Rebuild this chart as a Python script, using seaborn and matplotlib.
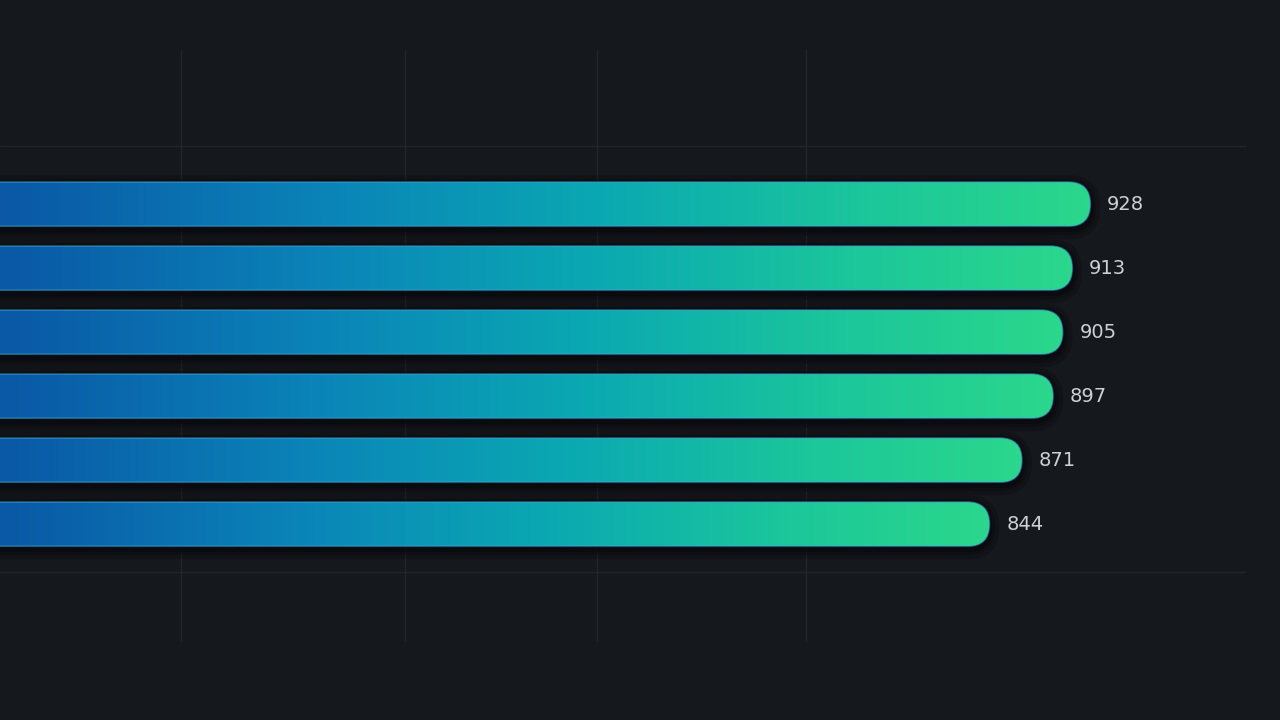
"""Horizontal gradient bar chart, dark theme"""

import numpy as np
import pandas as pd
import matplotlib
matplotlib.use("Agg")
import matplotlib.pyplot as plt
from matplotlib.colors import LinearSegmentedColormap
from matplotlib.patches import FancyBboxPatch
import seaborn as sns

categories = ["A", "B", "C", "D", "E", "F"]
values = [928, 913, 905, 897, 871, 844]

BG = "#15181c"
GRID = "#22262c"
grad = LinearSegmentedColormap.from_list(
    "bluegreen",
    [(0.0, "#0a58a6"), (0.3, "#0a84b8"), (0.55, "#0aa8b2"),
     (0.8, "#1cc79a"), (1.0, "#2bd78b")])

df = pd.DataFrame({"cat": categories, "val": values})

sns.set_theme(style="dark")
plt.rcParams["font.family"] = ["DejaVu Sans"]

fig = plt.figure(figsize=(12.8, 7.2), dpi=100, facecolor=BG)
ax = fig.add_axes([0, 0, 1, 1])
ax.set_facecolor(BG)

sns.barplot(data=df, x="val", y="cat", orient="h", width=0.69, ax=ax)

x_lo, x_hi = 20, 1086
y_top, y_bot = -3.19, 8.06
ax.set_xlim(x_lo, x_hi)
ax.set_ylim(y_bot, y_top)
ax.set_axis_off()

# faint grid
for gx in [181, 405, 597, 806]:
    ax.axvline(x_lo + gx / 1280 * (x_hi - x_lo), ymin=0.11, ymax=0.93,
               color=GRID, lw=1, zorder=0)
for gy in [146, 572]:
    ax.axhline(y_top + gy / 720 * (y_bot - y_top), xmin=0, xmax=0.973,
               color=GRID, lw=1, zorder=0)

# rounded gradient bars
px_x = 1280 / (x_hi - x_lo)
px_y = 720 / (y_bot - y_top)
ramp = np.linspace(0, 1, 256).reshape(1, -1)
for bar, v in zip(ax.patches, values):
    bar.set_visible(False)
    y0 = bar.get_y()
    h = bar.get_height()
    r = (h * px_y / 2) / px_x
    # soft dark shadow under each bar
    for grow, a in [(10, 0.25), (6, 0.35), (3, 0.5)]:
        gy = grow / px_y
        sh = FancyBboxPatch((-40, y0 - gy + 3 / px_y), v + 40 + grow / px_x,
                            h + 2 * gy,
                            boxstyle=f"round,pad=0,rounding_size={r + grow / px_x}",
                            mutation_aspect=(h / 2 + gy) / (r + grow / px_x),
                            facecolor="#07080b", edgecolor="none",
                            alpha=a, zorder=1)
        ax.add_patch(sh)
    box = FancyBboxPatch((-40, y0), v + 40, h,
                         boxstyle=f"round,pad=0,rounding_size={r}",
                         mutation_aspect=(h / 2) / r,
                         facecolor="none", edgecolor="#40aee6",
                         lw=1.2, alpha=0.5, zorder=3)
    ax.add_patch(box)
    im = ax.imshow(ramp, cmap=grad, aspect="auto", zorder=2,
                   extent=(x_lo, v, y0 + h, y0), interpolation="bicubic")
    im.set_clip_path(box)
    ax.text(v + 14, y0 + h / 2, f"{v}", color="#cdd0d4", fontsize=14,
            va="center", ha="left", zorder=4)

ax.set_xlim(x_lo, x_hi)
ax.set_ylim(y_bot, y_top)

fig.savefig("out.png", dpi=100, facecolor=BG)
